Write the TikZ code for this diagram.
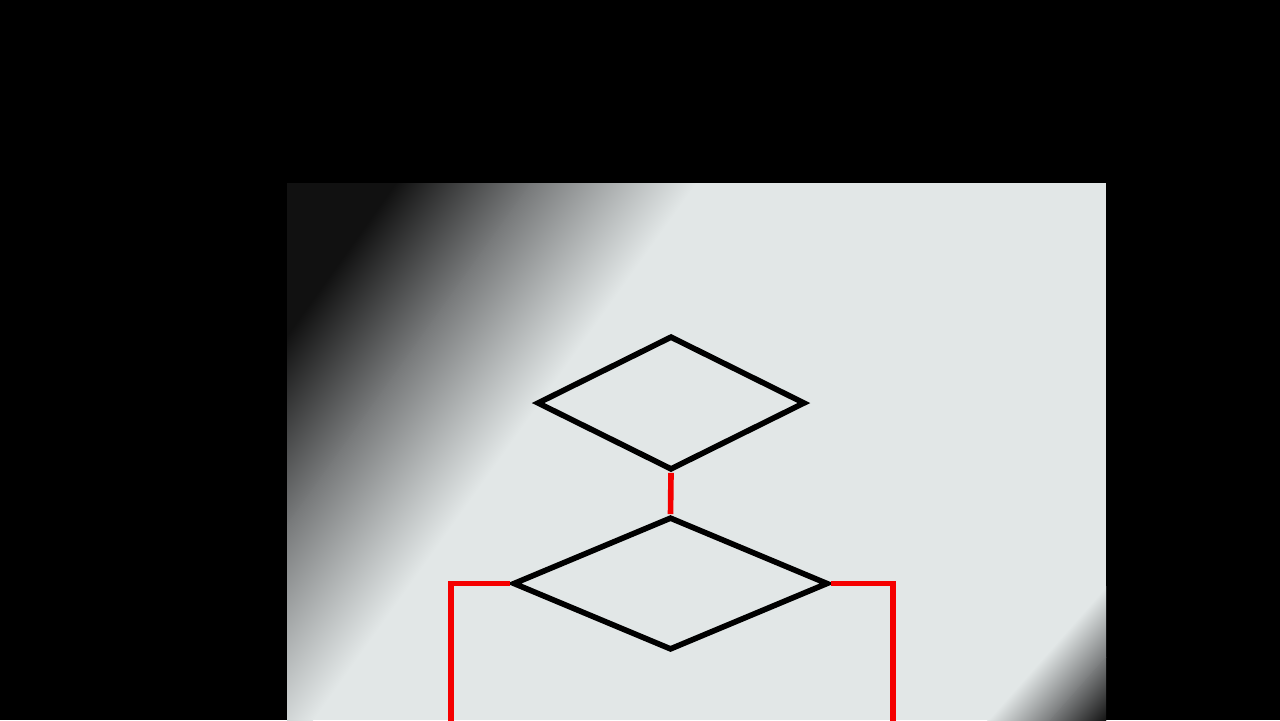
\documentclass[tikz,border=0pt]{standalone}
\usetikzlibrary{shapes.geometric}

\definecolor{paper}{RGB}{226,231,231}
\definecolor{shadowdark}{RGB}{17,17,17}
\definecolor{shadowmid}{RGB}{119,121,122}
\definecolor{flowred}{RGB}{245,0,0}

\begin{document}
\begin{tikzpicture}[x=0.01cm,y=0.01cm,
  decision/.style={diamond,draw=black,line width=1.6pt,inner sep=0pt,line join=miter},
  flowline/.style={draw=flowred,line width=1.6pt,line join=miter}]
  \path[fill=black] (0,0) rectangle (1280,720);
  \useasboundingbox (0,0) rectangle (1280,720);

  % sheet of paper with its shadows
  \begin{scope}
    \clip (287,0) rectangle (1106,537);
    \path[fill=paper] (287,0) rectangle (1106,537);
    \begin{scope}[transform canvas={rotate around={-35.5:(410,368)}}]
      \path[fill=shadowdark] (-900,-900) rectangle (301,1700);
      \shade[left color=shadowdark,right color=shadowmid] (300,-900) rectangle (411,1700);
      \shade[left color=shadowmid,right color=paper] (410,-900) rectangle (545,1700);
    \end{scope}
    \begin{scope}[transform canvas={rotate around={-41.5:(1077,30)}}]
      \shade[left color=paper,right color=shadowmid] (1030,-600) rectangle (1078,800);
      \shade[left color=shadowmid,right color=shadowdark] (1077,-600) rectangle (1120,800);
      \path[fill=shadowdark] (1119,-600) rectangle (1800,800);
    \end{scope}
  \end{scope}

  \node[decision,minimum width=2.68cm,minimum height=1.34cm] (d1) at (671,317) {};
  \node[decision,minimum width=3.15cm,minimum height=1.33cm] (d2) at (670.5,136.5) {};

  \coordinate (lend) at (451,-10);
  \coordinate (rend) at (893,-10);

  \draw[flowline] (d1.south) -- (d2.north);
  \draw[flowline] (d2.west) -| (lend);
  \draw[flowline] (d2.east) -| (rend);
\end{tikzpicture}
\end{document}
